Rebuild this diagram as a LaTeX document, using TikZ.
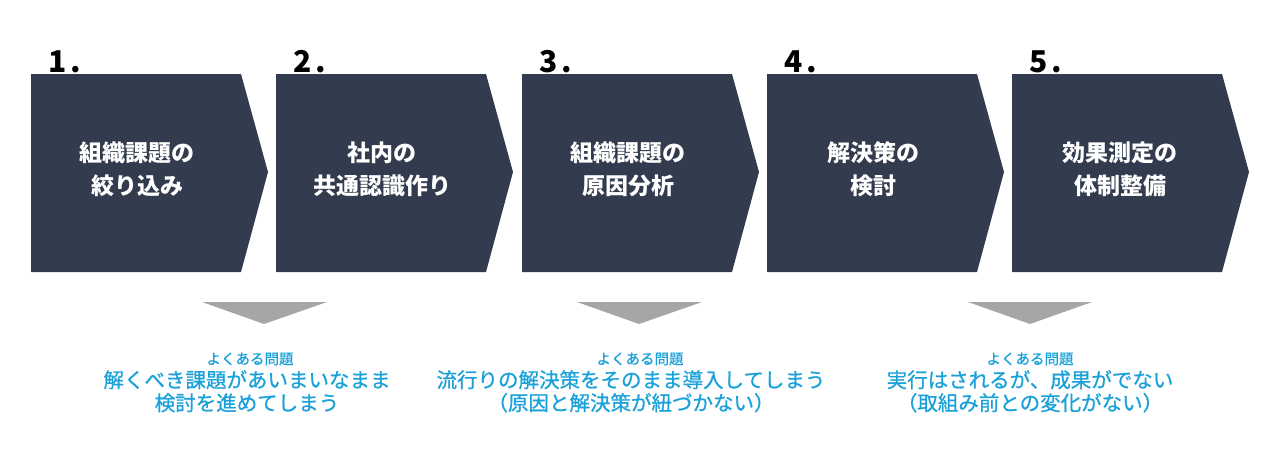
\documentclass[tikz,border=0pt]{standalone}
\usepackage{fontspec}
\setmainfont{Noto Sans CJK JP}
\newfontfamily\medjp[FakeBold=0.8]{Noto Sans CJK JP}
\definecolor{navy}{HTML}{323C4E}
\definecolor{trigray}{HTML}{A6A6A6}
\definecolor{sky}{HTML}{1BA1D9}
\tikzset{
  stepshape/.style={fill=navy},
  steptext/.style={text=white, align=center, font=\fontsize{23}{33}\selectfont\bfseries},
  stepnum/.style={anchor=base west, inner sep=0pt, font=\fontsize{30}{30}\selectfont\bfseries},
  downtri/.style={fill=trigray},
  problabel/.style={text=sky, font=\medjp\fontsize{14.5}{16}\selectfont, inner sep=0pt},
  probtext/.style={text=sky, align=center, font=\medjp\fontsize{20.5}{23}\selectfont, inner sep=0pt},
}
\begin{document}
\begin{tikzpicture}[x=1pt,y=-1pt]
\useasboundingbox (0,0) rectangle (1280,464);
% step shapes
\foreach \n/\x in {1/31,2/276,3/522,4/767,5/1012}{
  \fill[stepshape] (\x,74) -- ++(210,0) -- ++(27,98) -- ++(-27,100) -- ++(-210,0) -- cycle;
  \node[stepnum] (n\n) at (\x+17,72) {\n\kern0.12em.};
}
\node[steptext] (s1) at (137,169) {組織課題の\\絞り込み};
\node[steptext] (s2) at (382,169) {社内の\\共通認識作り};
\node[steptext] (s3) at (628,169) {組織課題の\\原因分析};
\node[steptext] (s4) at (873,169) {解決策の\\検討};
\node[steptext] (s5) at (1120,169) {効果測定の\\体制整備};
% triangles
\fill[downtri] (202,302) -- (327,302) -- (264,324) -- cycle;
\fill[downtri] (577,302) -- (702,302) -- (639,324) -- cycle;
\fill[downtri] (968,302) -- (1092,302) -- (1030,324) -- cycle;
% problems
\node[problabel] (l1) at (250,359) {よくある問題};
\node[probtext, anchor=north] (p1) at (247,370) {解くべき課題があいまいなまま\\検討を進めてしまう};
\node[problabel] (l2) at (640,359) {よくある問題};
\node[probtext, anchor=north] (p2) at (631,370) {流行りの解決策をそのまま導入してしまう\\（原因と解決策が紐づかない）};
\node[problabel] (l3) at (1030,359) {よくある問題};
\node[probtext, anchor=north] (p3) at (1030,370) {実行はされるが、成果がでない\\（取組み前との変化がない）};
\end{tikzpicture}
\end{document}
